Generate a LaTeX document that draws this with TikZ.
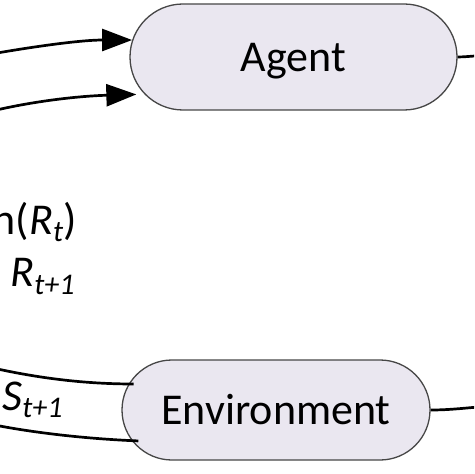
\documentclass[tikz,border=0pt]{standalone}
\usepackage{fontspec}
\setmainfont{Carlito}
\usetikzlibrary{arrows.meta,shapes.misc}
\newcommand\mysub[1]{\raisebox{-3.5pt}{\fontsize{15pt}{15pt}\selectfont\itshape #1}}
\definecolor{pillfill}{RGB}{234,231,240}
\definecolor{pillline}{RGB}{70,70,70}
\begin{document}
\begin{tikzpicture}[x=0.5pt,y=-0.5pt,
  pill/.style={rounded rectangle, draw=pillline, line width=0.65pt, fill=pillfill,
    font=\fontsize{22pt}{26pt}\selectfont, text height=14.2pt, text depth=0pt, inner sep=0pt},
  link/.style={line width=1.35pt, black},
  arr/.style={link, -{Triangle[length=15pt,width=11pt]}},
  lbl/.style={font=\fontsize{22pt}{26pt}\selectfont, inner sep=0pt, anchor=base east}]
\useasboundingbox (0,0) rectangle (474,474);
\clip (0,0) rectangle (474,474);

\node[pill, minimum width=163.5pt, minimum height=53pt] (agent) at (293.5,57) {Agent};
\node[pill, minimum width=154pt, minimum height=50pt] (env) at (276,410) {Environment};

\coordinate (s1) at (-20,56);
\coordinate (s2) at (-20,114);
\coordinate (s3) at (-20,365);
\coordinate (s4) at (-20,422);
\coordinate (e1) at (490,55);
\coordinate (e2) at (490,406);

\draw[arr] (s1) .. controls (30,47) and (80,40) .. (agent.174);
\draw[arr, shorten >=4pt] (s2) .. controls (30,101) and (80,96) .. (agent.194);
\draw[link, shorten >=-2.5pt] (s3) .. controls (30,377) and (80,384) .. (env.170);
\draw[link, shorten >=-3.3pt] (s4) .. controls (30,433) and (90,439) .. (env.192);
\draw[link] (agent.east) .. controls (465,57) and (472,56) .. (e1);
\draw[link] (env.east) .. controls (450,410) and (465,408) .. (e2);

\node[lbl] (lab1) at (77,235) {n(\textit{R}\mysub{t})};
\node[lbl] (lab2) at (75,287) {\textit{R}\mysub{t+1}};
\node[lbl] (lab3) at (63,410) {\textit{S}\mysub{t+1}};
\end{tikzpicture}
\end{document}
